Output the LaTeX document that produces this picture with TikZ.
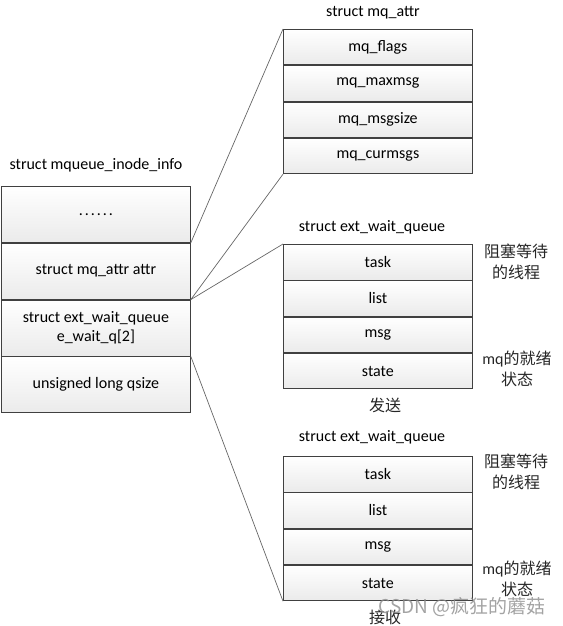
\documentclass[tikz,border=0pt]{standalone}
\usepackage{fontspec}
\setmainfont{Carlito}
\newfontfamily\cjk{Noto Sans CJK SC}
\begin{document}
\begin{tikzpicture}[x=1pt,y=-1pt,
  cell/.style={draw=black!75, line width=0.8pt, top color=white, bottom color=black!8,
    minimum height=#1, inner sep=0pt, font=\fontsize{16}{19}\selectfont, align=center},
  cell/.default=36pt,
  lcell/.style={cell=56pt, minimum width=189pt},
  rcell/.style={cell=35.5pt, minimum width=189pt},
  title/.style={font=\fontsize{16}{19}\selectfont, inner sep=0pt},
  note/.style={font=\cjk\fontsize{16}{21}\selectfont, align=center, inner sep=0pt, text=black!85},
  link/.style={draw=black!60, line width=0.7pt}]
\useasboundingbox (0,0) rectangle (562,626);
% left structure
\node[title] (ltitle) at (96,165) {struct mqueue\_inode\_info};
\node[lcell, anchor=north west] (l1) at (1,186) {.\kern2pt.\kern2pt.\kern2pt.\kern2pt.\kern2pt.};
\node[lcell, anchor=north] (l2) at (l1.south) {struct mq\_attr attr};
\node[lcell, anchor=north] (l3) at (l2.south) {struct ext\_wait\_queue\\e\_wait\_q[2]};
\node[lcell, anchor=north] (l4) at (l3.south) {unsigned long qsize};
% mq_attr
\node[title] (atitle) at (373,13) {struct mq\_attr};
\node[rcell, anchor=north west] (a1) at (283,29) {mq\_flags};
\node[rcell, anchor=north] (a2) at (a1.south) {mq\_maxmsg};
\node[rcell, anchor=north] (a3) at (a2.south) {mq\_msgsize};
\node[rcell, anchor=north] (a4) at (a3.south) {mq\_curmsgs};
% ext_wait_queue send
\node[title] (wtitle) at (372,227) {struct ext\_wait\_queue};
\node[rcell, anchor=north west] (w1) at (283,244) {task};
\node[rcell, anchor=north] (w2) at (w1.south) {list};
\node[rcell, anchor=north] (w3) at (w2.south) {msg};
\node[rcell, anchor=north] (w4) at (w3.south) {state};
\node[note] (wsend) at (385,405) {发送};
\node[note] (wn1) at (516,262) {阻塞等待\\的线程};
\node[note] (wn2) at (517,369) {{\fontspec{Carlito}\fontsize{16}{19}\selectfont mq}的就绪\\状态};
% ext_wait_queue receive
\node[title] (vtitle) at (372,437) {struct ext\_wait\_queue};
\node[rcell, anchor=north west] (v1) at (283,456) {task};
\node[rcell, anchor=north] (v2) at (v1.south) {list};
\node[rcell, anchor=north] (v3) at (v2.south) {msg};
\node[rcell, anchor=north] (v4) at (v3.south) {state};
\node[note] (vrecv) at (385,617) {接收};
\node[note] (vn1) at (516,472) {阻塞等待\\的线程};
\node[note] (vn2) at (517,579) {{\fontspec{Carlito}\fontsize{16}{19}\selectfont mq}的就绪\\状态};
% watermark
\node[font=\cjk\fontsize{19}{21}\selectfont, text=black!45, opacity=0.8, inner sep=0pt] (wm) at (462,607) {CSDN @疯狂的蘑菇};
% connectors
\draw[link] (l1.south east) -- (a1.north west);
\draw[link] (l2.south east) -- (a4.south west);
\draw[link] (l2.south east) -- (w1.north west);
\draw[link] (l3.south east) -- (v4.south west);
\end{tikzpicture}
\end{document}
